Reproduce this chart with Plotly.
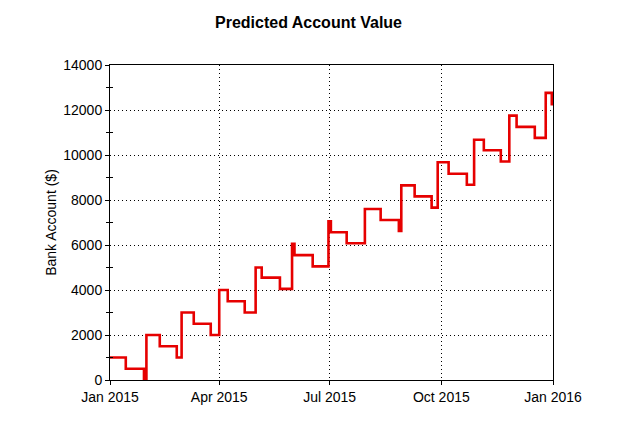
import plotly.graph_objects as go

dates = ["2015-01-01", "2015-01-14", "2015-01-29", "2015-01-31", "2015-02-11", "2015-02-25",
         "2015-03-01", "2015-03-11", "2015-03-25", "2015-04-01", "2015-04-08", "2015-04-22",
         "2015-05-01", "2015-05-06", "2015-05-21", "2015-05-31", "2015-06-02", "2015-06-17",
         "2015-06-30", "2015-07-02", "2015-07-15", "2015-07-30", "2015-08-12", "2015-08-27",
         "2015-08-29", "2015-09-09", "2015-09-23", "2015-09-28", "2015-10-07", "2015-10-22",
         "2015-10-28", "2015-11-05", "2015-11-19", "2015-11-26", "2015-12-02", "2015-12-17",
         "2015-12-26", "2015-12-31", "2016-01-01"]
balance = [1000, 500, 0, 2000, 1500, 1000,
           3000, 2500, 2000, 4000, 3500, 3000,
           5000, 4550, 4050, 6050, 5550, 5050,
           7050, 6570, 6080, 7600, 7110, 6620,
           8650, 8160, 7660, 9680, 9170, 8680,
           10680, 10210, 9710, 11750, 11250, 10760,
           12760, 12260, 12260]

x_tick_vals = ["2015-01-01", "2015-04-01", "2015-07-01", "2015-10-01", "2016-01-01"]
x_tick_text = ["Jan 2015", "Apr 2015", "Jul 2015", "Oct 2015", "Jan 2016"]
y_major = [0, 2000, 4000, 6000, 8000, 10000, 12000, 14000]
y_major_text = ["0", "2000", "4000", "6000", "8000", "10000", "12000", "14000"]
y_minor = [1000, 3000, 5000, 7000, 9000, 11000, 13000]

font_family = "Liberation Sans, Arial, sans-serif"

fig = go.Figure()
fig.add_trace(go.Scatter(x=dates, y=balance, mode="lines", line=dict(color="#e60000", width=2.6, shape="hv"),
                         showlegend=False, hoverinfo="skip"))
fig.add_trace(go.Scatter(x=[dates[0]], y=[balance[0]], mode="none", yaxis="y2", showlegend=False,
                         hoverinfo="skip"))

fig.update_layout(
    width=617, height=430,
    margin=dict(l=110, r=64, t=65, b=50),
    paper_bgcolor="white", plot_bgcolor="white",
    font=dict(family=font_family, size=14, color="black"),
    title=dict(text="<b>Predicted Account Value</b>", x=0.5, xanchor="center", y=0.948, yanchor="middle",
               font=dict(size=16, family=font_family, color="black")),
    xaxis=dict(range=["2015-01-01", "2016-01-01"], tickvals=x_tick_vals, ticktext=x_tick_text,
               showline=True, linecolor="black", linewidth=1, mirror=True,
               ticks="outside", ticklen=4, tickcolor="black",
               showgrid=True, gridcolor="black", gridwidth=1, griddash="1px,3px",
               zeroline=False, tickfont=dict(size=14)),
    yaxis=dict(range=[0, 14000], tickvals=y_major, ticktext=y_major_text,
               showline=True, linecolor="black", linewidth=1, mirror=True,
               ticks="outside", ticklen=4, tickcolor="black",
               minor=dict(tickvals=y_minor, ticks="outside", ticklen=3, tickcolor="black", showgrid=False),
               showgrid=True, gridcolor="black", gridwidth=1, griddash="1px,3px",
               zeroline=False, tickfont=dict(size=14),
               title=dict(text="Bank Account ($)", font=dict(size=14), standoff=3)),
    yaxis2=dict(range=[0, 14000], overlaying="y", side="left", tickvals=y_minor, ticks="inside", ticklen=3,
                tickcolor="black", showticklabels=False, showgrid=False, showline=False, zeroline=False),
)

fig.write_html("out.html")
